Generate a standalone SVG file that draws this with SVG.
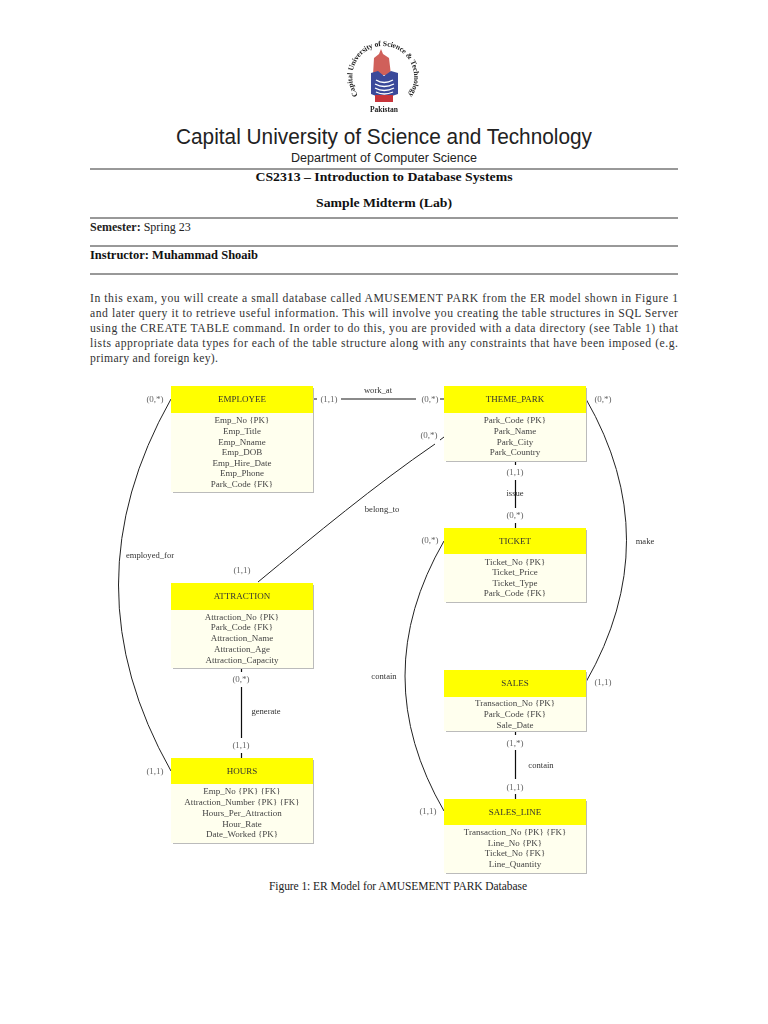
<svg xmlns="http://www.w3.org/2000/svg" width="768" height="1024" viewBox="0 0 768 1024">
<style>
text{font-family:"Liberation Serif","Times New Roman",serif;fill:#222}
.sans{font-family:"Liberation Sans",Arial,sans-serif}
.c{text-anchor:middle}
.b{font-weight:700;font-size:12px;fill:#111}
.body{font-size:11.7px;fill:#333}
.rule{stroke:#333;stroke-width:1;fill:none}
.head{fill:#ffff00}
.box{fill:#ffffee}
.shadow{fill:#bbb}
.name{font-size:9px;text-anchor:middle;fill:#333}
.attr{font-size:9px;text-anchor:middle;fill:#444}
.card{font-size:9px;text-anchor:middle;fill:#666}
.rel{font-size:8.6px;text-anchor:middle;fill:#333}
.line{stroke:#222;stroke-width:1;fill:none}
.straight{stroke:#111;stroke-width:1.2;fill:none}
</style>
<defs>
<filter id="soft" x="-5%" y="-5%" width="110%" height="110%"><feGaussianBlur stdDeviation="0.35"/></filter>
<filter id="softer" x="-5%" y="-5%" width="110%" height="110%"><feGaussianBlur stdDeviation="0.5"/></filter>
<path id="ring" d="M358 95 A31 31 0 1 1 383 108"/>
</defs>
<rect width="768" height="1024" fill="#fff"/>

<g id="logo" filter="url(#softer)">
<text font-size="7.5" font-weight="700" fill="#444" textLength="136"><textPath href="#ring">Capital University of Science &amp; Technology</textPath></text>
<text x="384" y="112" font-size="7.5" font-weight="700" class="c" fill="#444">Pakistan</text>
<path d="M373 75 L374 58 L379 54 L381 49 L383 54 L389 58 L391 75 Z" fill="#d0605a"/>
<path d="M371 73 L378 71 L384 76 L391 71 L398 73 L398 94 L392 96 L376 96 L371 94 Z" fill="#3a4a9a"/>
<path d="M376 80 Q384 85 393 80 M375 84 Q384 89 394 84 M375 88 Q384 93 394 88 M376 92 Q384 96 393 92" stroke="#fff" stroke-width="1.3" fill="none"/>
<rect x="375" y="95" width="18" height="7" fill="#c8353a"/>
</g>

<g id="header">
<text class="sans c" x="384" y="144" font-size="22" fill="#222" textLength="416" lengthAdjust="spacingAndGlyphs">Capital University of Science and Technology</text>
<text class="sans c" x="384" y="162" font-size="12.5" fill="#333" textLength="186" lengthAdjust="spacingAndGlyphs">Department of Computer Science</text>
<line class="rule" x1="90" y1="169" x2="678" y2="169"/>
<text class="b c" x="384" y="181" textLength="257" lengthAdjust="spacingAndGlyphs">CS2313 – Introduction to Database Systems</text>
<text class="b c" x="384" y="207" textLength="136" lengthAdjust="spacingAndGlyphs">Sample Midterm (Lab)</text>
<line class="rule" x1="90" y1="218" x2="678" y2="218"/>
<text x="90" y="231" font-size="12" fill="#222"><tspan font-weight="700">Semester:</tspan> Spring 23</text>
<line class="rule" x1="90" y1="246" x2="678" y2="246"/>
<text class="b" x="90" y="259" textLength="168" lengthAdjust="spacingAndGlyphs">Instructor: Muhammad Shoaib</text>
<line class="rule" x1="90" y1="274" x2="678" y2="274"/>
</g>

<g id="intro">
<text class="body" x="90" y="302" textLength="588">In this exam, you will create a small database called AMUSEMENT PARK from the ER model shown in Figure 1</text>
<text class="body" x="90" y="317" textLength="588">and later query it to retrieve useful information. This will involve you creating the table structures in SQL Server</text>
<text class="body" x="90" y="332" textLength="588">using the CREATE TABLE command. In order to do this, you are provided with a data directory (see Table 1) that</text>
<text class="body" x="90" y="347" textLength="588">lists appropriate data types for each of the table structure along with any constraints that have been imposed (e.g.</text>
<text class="body" x="90" y="362" textLength="128">primary and foreign key).</text>
</g>

<g filter="url(#soft)">
<g id="connectors">
<path class="straight" d="M313 399H317M341 399H416M440 399H444"/>
<path class="line" d="M435 444C375 485 315 535 258 582M440 440L444 437"/>
<path class="line" d="M171 399Q66 585 171 771"/>
<path class="line" d="M586 399Q667 540 586 682"/>
<path class="line" d="M444 541Q366 676 444 811"/>
<path class="straight" d="M515.500 461V465M515.500 480V508M515.500 523V528"/>
<path class="straight" d="M241.500 668V672M241.500 687V738M241.500 753V758"/>
<path class="straight" d="M515.500 731V735M515.500 750V779M515.500 794V799"/>
</g>

<g id="labels">
<text class="card" x="155" y="402">(0,*)</text>
<text class="card" x="329" y="402">(1,1)</text>
<text class="card" x="430" y="402">(0,*)</text>
<text class="card" x="429" y="438">(0,*)</text>
<text class="card" x="430" y="543">(0,*)</text>
<text class="card" x="603" y="402">(0,*)</text>
<text class="card" x="242" y="573">(1,1)</text>
<text class="card" x="241" y="682">(0,*)</text>
<text class="card" x="241" y="748">(1,1)</text>
<text class="card" x="155" y="774">(1,1)</text>
<text class="card" x="515" y="475">(1,1)</text>
<text class="card" x="515" y="518">(0,*)</text>
<text class="card" x="515" y="746">(1,*)</text>
<text class="card" x="515" y="790">(1,1)</text>
<text class="card" x="428" y="814">(1,1)</text>
<text class="card" x="603" y="685">(1,1)</text>
<text class="rel" x="378" y="393">work_at</text>
<text class="rel" x="382" y="512">belong_to</text>
<text class="rel" x="150" y="558">employed_for</text>
<text class="rel" x="266" y="714">generate</text>
<text class="rel" x="515" y="496">issue</text>
<text class="rel" x="645" y="544">make</text>
<text class="rel" x="384" y="679">contain</text>
<text class="rel" x="541" y="768">contain</text>
</g>

<g id="employee">
<rect class="shadow" x="173" y="388" width="141" height="105"/>
<rect class="box" x="171" y="386" width="142" height="106"/>
<rect class="head" x="171" y="386" width="142" height="27"/>
<text class="name" x="242" y="402">EMPLOYEE</text>
<text class="attr" x="242" y="423">Emp_No {PK}</text>
<text class="attr" x="242" y="434">Emp_Title</text>
<text class="attr" x="242" y="445">Emp_Nname</text>
<text class="attr" x="242" y="455">Emp_DOB</text>
<text class="attr" x="242" y="466">Emp_Hire_Date</text>
<text class="attr" x="242" y="476">Emp_Phone</text>
<text class="attr" x="242" y="487">Park_Code {FK}</text>
</g>

<g id="theme_park">
<rect class="shadow" x="446" y="388" width="141" height="74"/>
<rect class="box" x="444" y="386" width="142" height="75"/>
<rect class="head" x="444" y="386" width="142" height="27"/>
<text class="name" x="515" y="402">THEME_PARK</text>
<text class="attr" x="515" y="423">Park_Code {PK}</text>
<text class="attr" x="515" y="434">Park_Name</text>
<text class="attr" x="515" y="445">Park_City</text>
<text class="attr" x="515" y="455">Park_Country</text>
</g>

<g id="ticket">
<rect class="shadow" x="446" y="530" width="141" height="73"/>
<rect class="box" x="444" y="528" width="142" height="74"/>
<rect class="head" x="444" y="528" width="142" height="26"/>
<text class="name" x="515" y="544">TICKET</text>
<text class="attr" x="515" y="565">Ticket_No {PK}</text>
<text class="attr" x="515" y="575">Ticket_Price</text>
<text class="attr" x="515" y="586">Ticket_Type</text>
<text class="attr" x="515" y="596">Park_Code {FK}</text>
</g>

<g id="attraction">
<rect class="shadow" x="173" y="585" width="141" height="84"/>
<rect class="box" x="171" y="583" width="142" height="85"/>
<rect class="head" x="171" y="583" width="142" height="27"/>
<text class="name" x="242" y="599">ATTRACTION</text>
<text class="attr" x="242" y="620">Attraction_No {PK}</text>
<text class="attr" x="242" y="630">Park_Code {FK}</text>
<text class="attr" x="242" y="641">Attraction_Name</text>
<text class="attr" x="242" y="652">Attraction_Age</text>
<text class="attr" x="242" y="663">Attraction_Capacity</text>
</g>

<g id="hours">
<rect class="shadow" x="173" y="760" width="141" height="84"/>
<rect class="box" x="171" y="758" width="142" height="85"/>
<rect class="head" x="171" y="758" width="142" height="26"/>
<text class="name" x="242" y="774">HOURS</text>
<text class="attr" x="242" y="794">Emp_No {PK} {FK}</text>
<text class="attr" x="242" y="805">Attraction_Number {PK} {FK}</text>
<text class="attr" x="242" y="816">Hours_Per_Attraction</text>
<text class="attr" x="242" y="827">Hour_Rate</text>
<text class="attr" x="242" y="837">Date_Worked {PK}</text>
</g>

<g id="sales">
<rect class="shadow" x="446" y="672" width="141" height="60"/>
<rect class="box" x="444" y="670" width="142" height="61"/>
<rect class="head" x="444" y="670" width="142" height="27"/>
<text class="name" x="515" y="686">SALES</text>
<text class="attr" x="515" y="706">Transaction_No {PK}</text>
<text class="attr" x="515" y="717">Park_Code {FK}</text>
<text class="attr" x="515" y="728">Sale_Date</text>
</g>

<g id="sales_line">
<rect class="shadow" x="446" y="801" width="141" height="73"/>
<rect class="box" x="444" y="799" width="142" height="74"/>
<rect class="head" x="444" y="799" width="142" height="26"/>
<text class="name" x="515" y="815">SALES_LINE</text>
<text class="attr" x="515" y="835">Transaction_No {PK} {FK}</text>
<text class="attr" x="515" y="846">Line_No {PK}</text>
<text class="attr" x="515" y="856">Ticket_No {FK}</text>
<text class="attr" x="515" y="867">Line_Quantity</text>
</g>
</g>

<text id="caption" x="398" y="890" class="c" font-size="11.500" fill="#333" textLength="258">Figure 1: ER Model for AMUSEMENT PARK Database</text>
</svg>
